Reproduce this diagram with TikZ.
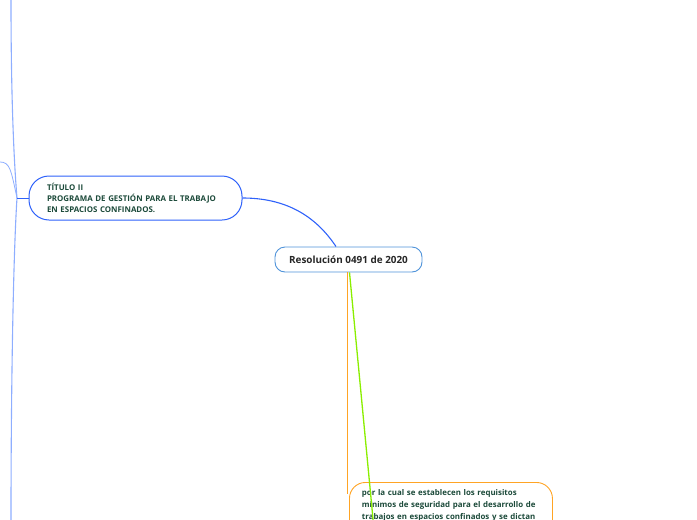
\documentclass[tikz,border=0pt]{standalone}
\usepackage{fontspec}
\setmainfont{Open Sans}
\usetikzlibrary{positioning}
\definecolor{RootBlue}{HTML}{4F93DA}
\definecolor{TopicBlue}{HTML}{2F62FA}
\definecolor{StemBlue}{HTML}{8EAEFF}
\definecolor{SubOrange}{HTML}{FFA424}
\definecolor{LimeGreen}{HTML}{8AEE00}
\definecolor{TextGreen}{HTML}{1C4A3A}
\tikzset{
  rootbox/.style={draw=RootBlue, line width=0.9pt, fill=white, rounded corners=10pt,
    minimum width=147pt, minimum height=25pt, inner sep=0pt,
    font=\bfseries\fontsize{9.9}{11}\selectfont, text=black!85},
  topicbox/.style={draw=TopicBlue, line width=1pt, fill=white, rounded corners=20pt,
    minimum width=213pt, minimum height=44pt, text width=177pt, align=left,
    inner sep=0pt, font=\bfseries\fontsize{7.9}{11}\selectfont, text=TextGreen},
  subbox/.style={draw=SubOrange, line width=0.9pt, fill=white, rounded corners=16pt,
    minimum width=203pt, text width=178pt, align=left,
    inner xsep=12.5pt, inner ysep=7pt, anchor=north west,
    font=\bfseries\fontsize{7.9}{12}\selectfont, text=TextGreen,
    execute at end node={\par\vspace*{16pt}}},
  stem/.style={StemBlue, line width=1.1pt},
}
\begin{document}
\begin{tikzpicture}[x=1pt,y=-1pt]
  \useasboundingbox (0,0) rectangle (697,520);
  \clip (0,0) rectangle (697,520);

  \coordinate (Hub)      at (17,198);
  \coordinate (StemTop)  at (11,0);
  \coordinate (StemBot)  at (11,520);
  \coordinate (StemLeft) at (0,162);
  \coordinate (OrangeIn) at (347.5,494);
  \coordinate (LimeEnd)  at (375,540);

  % the nodes
  \node[rootbox] (root) at (348.5,259.5) {Resolución 0491 de 2020};
  \node[topicbox] (titulo) at (135.5,198) {TÍTULO II\\PROGRAMA DE GESTIÓN PARA EL TRABAJO\\EN ESPACIOS CONFINADOS.};

  % left stems
  \draw[stem] (Hub) .. controls (13,150) and (11,80) .. (StemTop);
  \draw[stem] (Hub) .. controls (13,260) and (11,400) .. (StemBot);
  \draw[stem, line width=0.8pt] (Hub) .. controls (11,170) and (10,162) .. (StemLeft);
  \draw[TopicBlue, line width=1pt] (titulo.west) -- (Hub);

  % branches of the root
  \draw[TopicBlue, line width=1.1pt] (titulo.east) .. controls (285,198) and (315,215) .. (root.north -| 336,0);
  \draw[SubOrange, line width=1.1pt] (root.south -| OrangeIn) -- (OrangeIn);

  \node[subbox] (decreto) at (349,482) {por la cual se establecen los requisitos\\mínimos de seguridad para el desarrollo de\\trabajos en espacios confinados y se dictan};

  \draw[LimeGreen, line width=1.3pt] (root.south -| 349.5,0) -- (LimeEnd);

\end{tikzpicture}
\end{document}
